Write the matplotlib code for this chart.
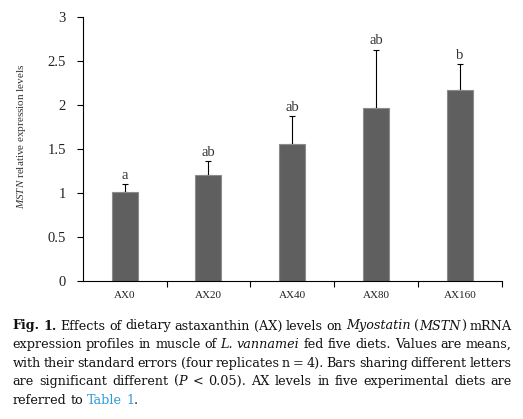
import numpy as np
import matplotlib
matplotlib.use('Agg')
from matplotlib import pyplot as plt

# data
groups = ['AX0', 'AX20', 'AX40', 'AX80', 'AX160']
means = [1.01, 1.20, 1.56, 1.97, 2.17]
sems = [0.09, 0.16, 0.31, 0.66, 0.30]
letters = ['a', 'ab', 'ab', 'ab', 'b']

caption = [
    "#Fig. 1.# Effects of dietary astaxanthin (AX) levels on *Myostatin* (*MSTN*) mRNA",
    "expression profiles in muscle of *L. vannamei* fed five diets. Values are means,",
    "with their standard errors (four replicates n = 4). Bars sharing different letters",
    "are significant different (*P* < 0.05). AX levels in five experimental diets are",
    "referred to @Table 1@.",
]

plt.rcParams['font.family'] = 'Liberation Serif'
plt.rcParams['mathtext.fontset'] = 'custom'
plt.rcParams['mathtext.it'] = 'Liberation Serif:italic'
plt.rcParams['mathtext.rm'] = 'Liberation Serif'

W, H = 523, 419
fig = plt.figure(figsize=(W / 100, H / 100), dpi=100)
ax = fig.add_axes([82.7 / W, 1 - 281 / H, 419 / W, 264 / H])

x = np.arange(len(groups))
ax.bar(x, means, width=0.31, color='#5f5f5f', edgecolor='#8c8c8c', linewidth=0.8, zorder=2)
ax.errorbar(x, means, yerr=[np.zeros(len(x)), sems], fmt='none', ecolor='black',
            elinewidth=0.8, capsize=2.5, capthick=0.8, zorder=1)
for xi, m, e, l in zip(x, means, sems, letters):
    ax.annotate(l, (xi, m + e), xytext=(0, 1.5), textcoords='offset points',
                ha='center', va='bottom', fontsize=10.5, color='#333333')

ax.set_xlim(-0.5, len(groups) - 0.5)
ax.set_ylim(0, 3)
ax.set_yticks(np.arange(0, 3.01, 0.5))
ax.set_yticklabels(['0', '0.5', '1', '1.5', '2', '2.5', '3'])
ax.set_xticks(x)
ax.set_xticklabels(groups)
ax.set_xticks(np.arange(0.5, len(groups), 1), minor=True)
ax.tick_params(axis='x', which='major', length=0, pad=7, labelsize=8, labelcolor='#222222')
ax.tick_params(axis='x', which='minor', length=4, width=0.8, direction='out')
ax.tick_params(axis='y', length=4, width=0.8, direction='out', pad=8, labelsize=10.5,
               labelcolor='#222222')
for s in ['top', 'right']:
    ax.spines[s].set_visible(False)
for s in ['left', 'bottom']:
    ax.spines[s].set_linewidth(0.8)
ax.set_ylabel(r'$\mathit{MSTN}$ relative expression levels', fontsize=8, color='#333333')
ax.yaxis.set_label_coords(-0.13, 0.55)

# caption, justified word by word
renderer = fig.canvas.get_renderer()
left, right = 12.7, 511.7
base0, step = 329.5, 18.6


def parse(line):
    bold = ital = link = False
    chars = []
    for c in line:
        if c == '#':
            bold = not bold
        elif c == '*':
            ital = not ital
        elif c == '@':
            link = not link
        else:
            chars.append((c, (bold, ital, link)))
    words, cur = [], []
    for c, st in chars:
        if c == ' ':
            if cur:
                words.append(cur)
            cur = []
        elif cur and cur[-1][1] == st:
            cur[-1][0] += c
        else:
            cur.append([c, st])
    if cur:
        words.append(cur)
    return words


def make_text(s, st):
    bold, ital, link = st
    return fig.text(0, 0, s, fontsize=9.2, family='DejaVu Serif',
                    weight='bold' if bold else 'normal',
                    style='italic' if ital else 'normal',
                    color='#2e9bd6' if link else '#111111', va='baseline', ha='left')


for i, line in enumerate(caption):
    words = parse(line)
    objs = []
    widths = []
    for w in words:
        runs = []
        tw = 0
        for s, st in w:
            t = make_text(s, st)
            rw = t.get_window_extent(renderer).width
            runs.append((t, tw))
            tw += rw
        objs.append(runs)
        widths.append(tw)
    sp = make_text(' ', (False, False, False))
    space_w = sp.get_window_extent(renderer).width
    sp.remove()
    if i < len(caption) - 1:
        gap = (right - left - sum(widths)) / (len(words) - 1)
    else:
        gap = space_w
    y = 1 - (base0 + i * step) / H
    xp = left
    for runs, tw in zip(objs, widths):
        for t, off in runs:
            t.set_position(((xp + off) / W, y))
        xp += tw + gap

fig.savefig('out.png', dpi=100)
